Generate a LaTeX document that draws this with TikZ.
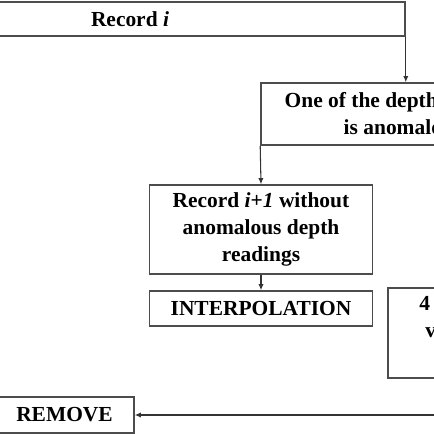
\documentclass[tikz,border=0pt]{standalone}
\usepackage{fontspec}
\setmainfont{Liberation Serif}
\usetikzlibrary{arrows.meta}

\begin{document}
\begin{tikzpicture}[>={Latex[length=3.5pt,width=3pt]},
		box/.style={draw=black!70, line width=0.9pt, rectangle, align=center, inner sep=1pt, font=\fontsize{12.2}{15.4}\selectfont\bfseries},
		flow/.style={->, draw=black!80, line width=0.6pt}]
			\useasboundingbox (0,0) rectangle (8.68,8.68);
			\clip (0,0) rectangle (8.68,8.68);
			\node[box, minimum width=11cm, minimum height=0.68cm] (rec) at (2.6, 8.30) {Record \textit{i}};
			\node[box, minimum width=5.68cm, minimum height=1.24cm] (anom) at (8.06, 6.40) {One of the depth readings\\is anomalous};
			\node[box, minimum width=4.46cm, minimum height=1.78cm] (rec1) at (5.22, 4.09) {Record \textit{i}+\textit{1} without\\anomalous depth\\readings};
			\node[box, minimum width=4.46cm, minimum height=0.70cm] (interp) at (5.22, 2.51) {INTERPOLATION};
			\node[box, anchor=west, minimum width=4.46cm, minimum height=1.8cm] (four) at (7.74, 2.02) {};
			\node[font=\fontsize{12.2}{15.4}\selectfont\bfseries, anchor=base west, inner sep=0pt] (fourtxt) at (8.38, 2.47) {4};
			\node[font=\fontsize{12.2}{15.4}\selectfont\bfseries, anchor=base west, inner sep=0pt] (fourtxt2) at (8.50, 1.93) {v};
			\node[box, minimum width=2.78cm, minimum height=0.72cm] (remove) at (1.29, 0.38) {REMOVE};
			\coordinate (fromright) at (9.2, 0.38);

			\draw[flow] (rec.south east) -- (rec.south east |- anom.north);
			\draw[flow] (anom.south west) -- (rec1.north);
			\draw[flow] (rec1) -- (interp);
			\draw[flow] (fromright) -- (remove);
\end{tikzpicture}
\end{document}
